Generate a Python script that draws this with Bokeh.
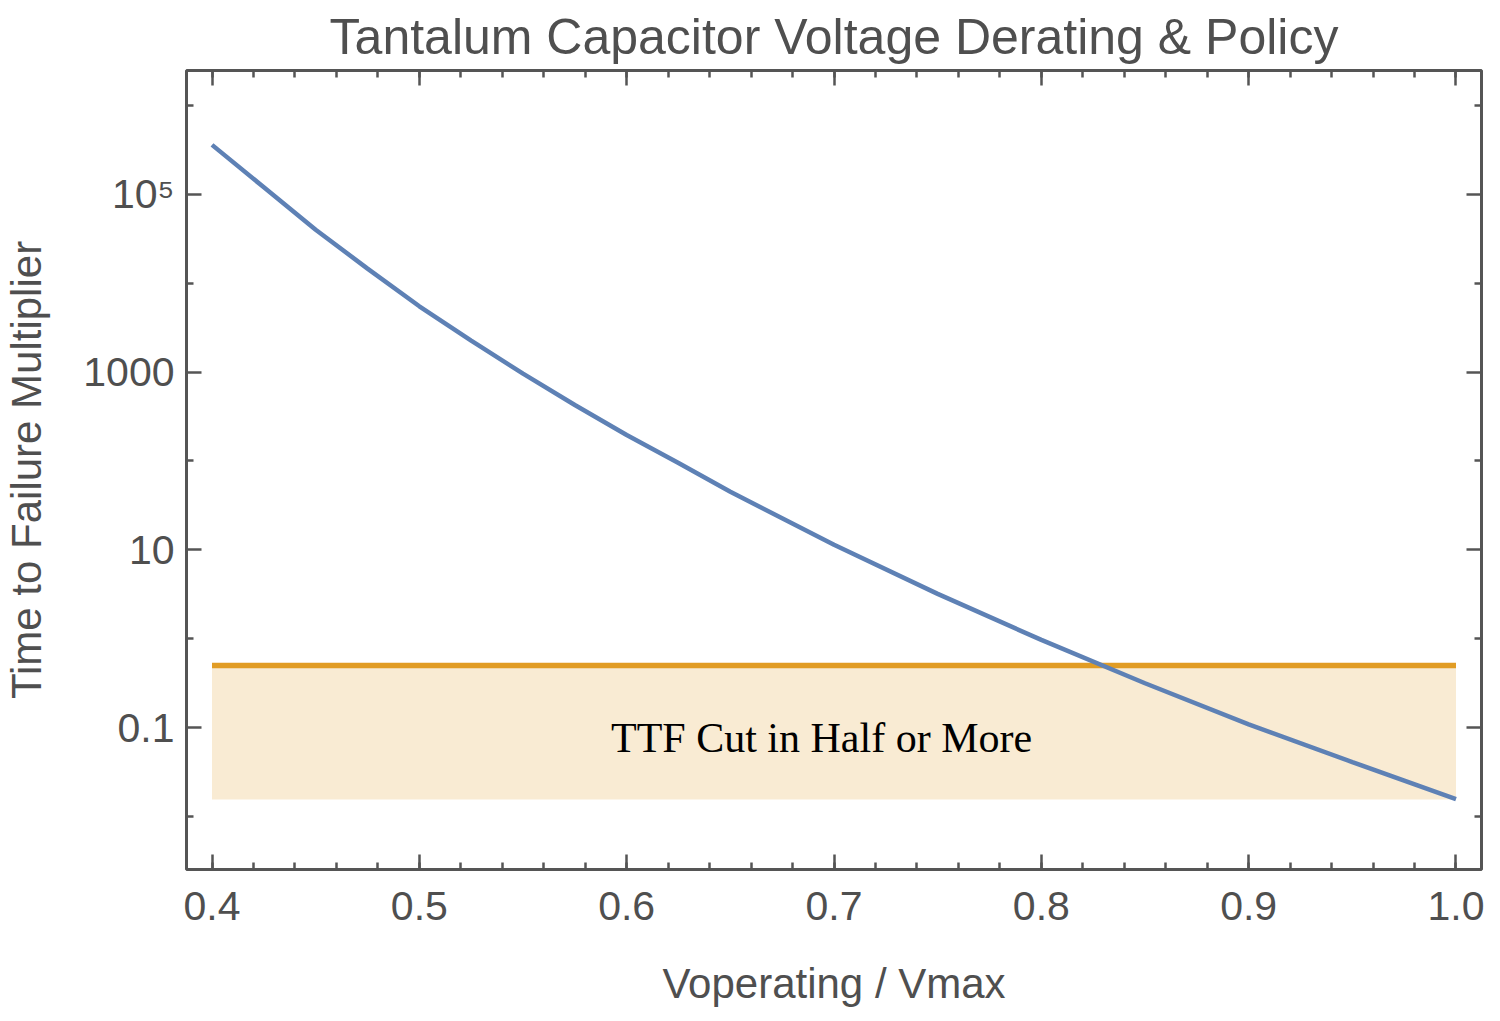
from bokeh.plotting import figure
from bokeh.models import (FixedTicker, LinearAxis, LogAxis, CustomJSTickFormatter, Range1d)
from bokeh.core.properties import value
from bokeh.embed import file_html
from bokeh.resources import INLINE

# ---- data ----
v_ratio = [0.400, 0.425, 0.450, 0.475, 0.500, 0.525, 0.550, 0.575, 0.600, 0.625,
           0.65, 0.70, 0.75, 0.80, 0.85, 0.90, 0.95, 1.00]
ttf_multiplier = [3.6e5, 1.2e5, 4.0e4, 1.46e4, 5500, 2260, 960, 426, 196, 95,
                  45, 11.4, 3.2, 0.97, 0.316, 0.109, 0.041, 0.0157]

policy_threshold = 0.5          # "TTF cut in half"
band_x = [0.40, 1.00]
band_floor = 0.0155

band_text = "TTF Cut in Half or More"
band_text_x = 0.694
band_text_y = 0.077

x_major = [0.4, 0.5, 0.6, 0.7, 0.8, 0.9, 1.0]
x_labels = ["0.4", "0.5", "0.6", "0.7", "0.8", "0.9", "1.0"]
x_minor = [round(0.4 + 0.02 * i, 2) for i in range(31)]
y_major = [0.1, 10, 1000, 1e5]
y_labels = ["0.1", "10", "1000", "10\u2075"]
y_minor = [0.01, 1, 100, 1e4, 1e6]

title_text = "Tantalum Capacitor Voltage Derating & Policy"
x_title = "Voperating / Vmax"
y_title = "Time to Failure Multiplier"

FRAME = "#555555"
LABEL = "#4f4f4f"
SANS = "Liberation Sans"

p = figure(width=1492, height=1021,
           x_range=Range1d(0.3877, 1.0123), y_range=Range1d(10 ** -2.596, 10 ** 6.393),
           y_axis_type="log", output_backend="svg", toolbar_location=None,
           min_border_left=185, min_border_right=11, min_border_top=69, min_border_bottom=152)
p.grid.visible = False
p.outline_line_color = FRAME
p.outline_line_width = 3
p.background_fill_color = "white"
p.border_fill_color = "white"

p.title.text = title_text
p.title.align = "center"
p.title.text_font = SANS
p.title.text_font_size = "50px"
p.title.text_font_style = "normal"
p.title.text_color = LABEL
p.title.standoff = 12

# band and threshold
p.varea(x=band_x, y1=[band_floor, band_floor], y2=[policy_threshold, policy_threshold],
        fill_color="#F9EBD3", fill_alpha=1.0)
p.line(x=band_x, y=[policy_threshold, policy_threshold], line_color="#E19C24", line_width=5.5)
p.line(x=v_ratio, y=ttf_multiplier, line_color="#5E81B5", line_width=4.5)
p.text(x=[band_text_x], y=[band_text_y], text=[band_text], text_font=value("Liberation Serif"),
       text_font_size="42px", text_color="black", text_align="center", text_baseline="middle")

fmt_x = CustomJSTickFormatter(args=dict(tk=x_major, lb=x_labels), code="""
for (let i = 0; i < tk.length; i++) { if (Math.abs(tick - tk[i]) < 1e-6) return lb[i]; }
return "";
""")
fmt_y = CustomJSTickFormatter(args=dict(tk=y_major, lb=y_labels), code="""
for (let i = 0; i < tk.length; i++) { if (Math.abs(Math.log10(tick) - Math.log10(tk[i])) < 1e-3) return lb[i]; }
return "";
""")
blank = CustomJSTickFormatter(code="return '';")


def style(ax):
    ax.axis_line_color = None
    ax.major_tick_in = 15
    ax.major_tick_out = 0
    ax.minor_tick_in = 7
    ax.minor_tick_out = 0
    ax.major_tick_line_color = FRAME
    ax.minor_tick_line_color = FRAME
    ax.major_tick_line_width = 2.5
    ax.minor_tick_line_width = 2.5
    ax.major_label_text_font = SANS
    ax.major_label_text_font_size = "41px"
    ax.major_label_text_color = LABEL
    ax.axis_label_text_font = SANS
    ax.axis_label_text_font_size = "42px"
    ax.axis_label_text_font_style = "normal"
    ax.axis_label_text_color = LABEL


xb = p.xaxis[0]
xb.ticker = FixedTicker(ticks=x_major, minor_ticks=x_minor)
xb.formatter = fmt_x
xb.axis_label = x_title
style(xb)
xb.major_label_standoff = 22
xb.axis_label_standoff = 37

yl = p.yaxis[0]
yl.ticker = FixedTicker(ticks=y_major, minor_ticks=y_minor)
yl.formatter = fmt_y
yl.axis_label = y_title
style(yl)
yl.major_label_standoff = 12
yl.axis_label_standoff = 30

top = LinearAxis(ticker=FixedTicker(ticks=x_major, minor_ticks=x_minor), formatter=blank)
style(top)
top.major_label_standoff = 0
p.add_layout(top, "above")

right = LogAxis(ticker=FixedTicker(ticks=y_major, minor_ticks=y_minor), formatter=blank)
style(right)
right.major_label_standoff = 0
p.add_layout(right, "right")

open("out.html", "w").write(file_html(p, INLINE))
